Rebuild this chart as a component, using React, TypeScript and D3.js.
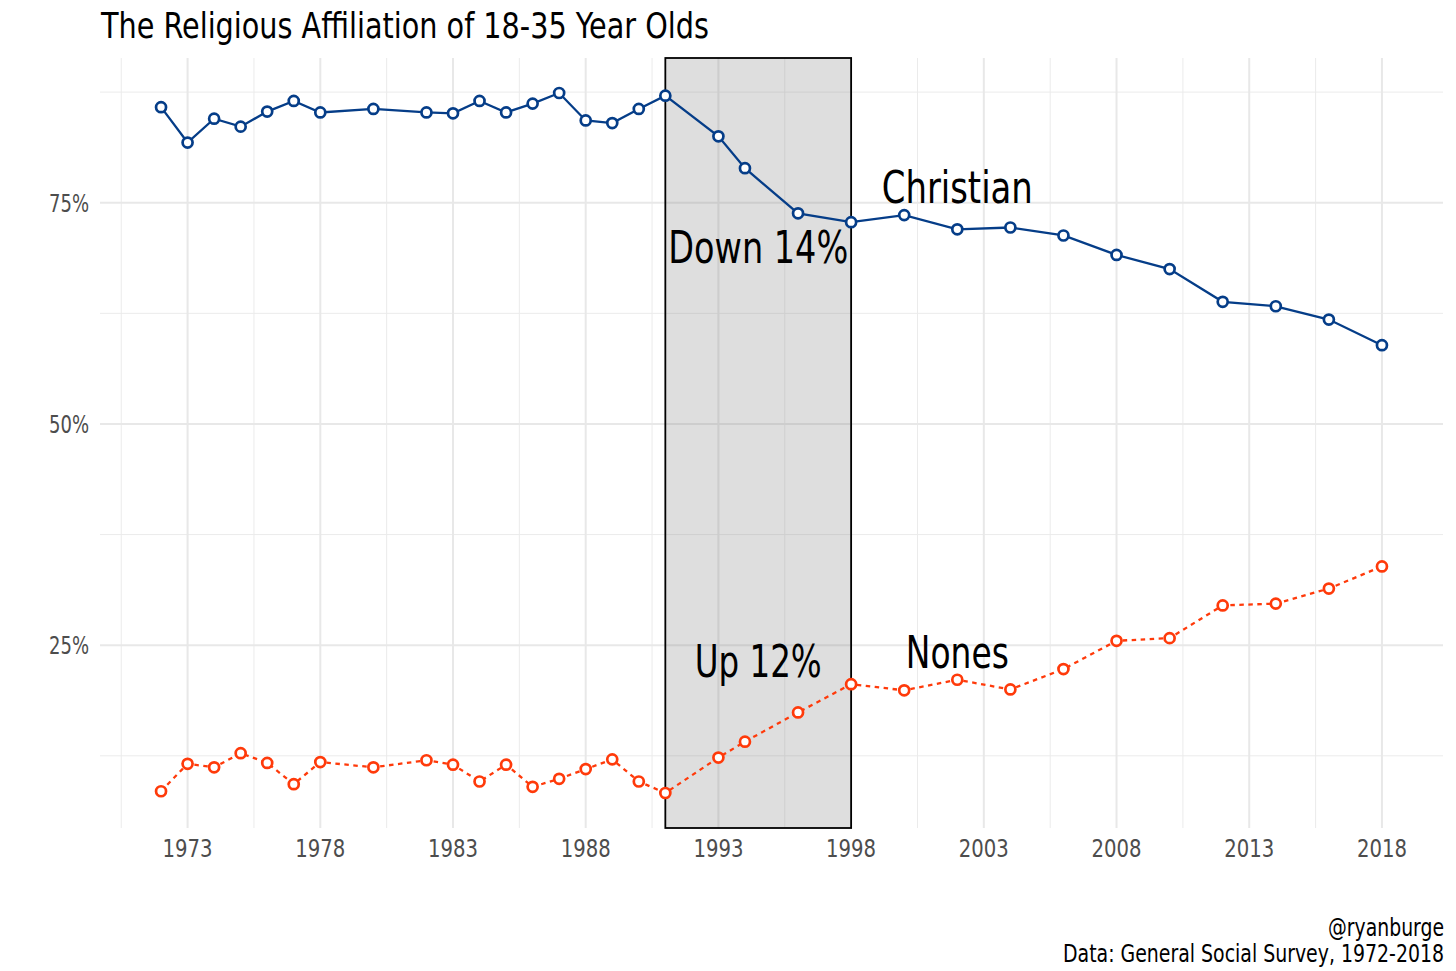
import * as d3 from 'd3';

// GSS survey years and shares (%) of 18-35 year olds
const years = [
  1972, 1973, 1974, 1975, 1976, 1977, 1978, 1980, 1982, 1983, 1984, 1985, 1986, 1987, 1988, 1989,
  1990, 1991, 1993, 1994, 1996, 1998, 2000, 2002, 2004, 2006, 2008, 2010, 2012, 2014, 2016, 2018,
];
const christian = [
  85.8, 81.8, 84.5, 83.6, 85.3, 86.5, 85.2, 85.6, 85.2, 85.1, 86.5, 85.2, 86.2, 87.4, 84.3, 84.0,
  85.6, 87.1, 82.5, 78.9, 73.8, 72.8, 73.6, 72.0, 72.2, 71.3, 69.1, 67.5, 63.8, 63.3, 61.8, 58.9,
];
const nones = [
  8.5, 11.6, 11.2, 12.8, 11.7, 9.3, 11.8, 11.2, 12.0, 11.5, 9.6, 11.5, 9.0, 9.9, 11.0, 12.1,
  9.6, 8.3, 12.3, 14.1, 17.4, 20.6, 19.9, 21.1, 20.0, 22.3, 25.5, 25.8, 29.5, 29.7, 31.4, 33.9,
];

const xTicks = [1973, 1978, 1983, 1988, 1993, 1998, 2003, 2008, 2013, 2018];
const xMinor = [1970.5, 1975.5, 1980.5, 1985.5, 1990.5, 1995.5, 2000.5, 2005.5, 2010.5, 2015.5];
const yTicks = [25, 50, 75];
const yMinor = [12.5, 37.5, 62.5, 87.5];
const shade = [1991, 1998];

const labels = [
  { text: 'Christian', year: 2002, value: 75.0, width: 151 },
  { text: 'Down 14%', year: 1994.5, value: 68.2, width: 180 },
  { text: 'Nones', year: 2002, value: 22.4, width: 103 },
  { text: 'Up 12%', year: 1994.5, value: 21.4, width: 127 },
];

const W = 1456;
const H = 971;
const margin = { top: 58, right: 13, bottom: 143, left: 100 };
// no Abel here: squeeze a condensed sans to the reference widths
const font = '"DejaVu Sans Condensed", "DejaVu Sans", sans-serif';
const navy = '#053d88';
const red = '#ff3a0a';

function expand([a, b]: [number, number]): [number, number] {
  const pad = (b - a) * 0.05;
  return [a - pad, b + pad];
}

export default function App() {
  const x = d3
    .scaleLinear()
    .domain(expand(d3.extent(years) as [number, number]))
    .range([margin.left, W - margin.right]);
  const allVals = christian.concat(nones);
  const y = d3
    .scaleLinear()
    .domain(expand(d3.extent(allVals) as [number, number]))
    .range([H - margin.bottom, margin.top]);

  const [x0, x1] = x.range();
  const [y0, y1] = y.range();

  const line = d3
    .line<number>()
    .x((_, i) => x(years[i]))
    .y((d) => y(d));

  const series = [
    { values: christian, color: navy, dash: undefined },
    { values: nones, color: red, dash: '4.5 4.5' },
  ];

  const squeeze = { lengthAdjust: 'spacingAndGlyphs' as const, fontFamily: font };

  return (
    <div style={{ position: 'fixed', left: 0, top: 0 }}>
      <svg width={W} height={H} style={{ display: 'block', background: '#fff' }}>
        {/* grid */}
        {yMinor.map((v) => (
          <line key={'ym' + v} x1={x0} x2={x1} y1={y(v)} y2={y(v)} stroke="#ebebeb" strokeWidth={1} />
        ))}
        {xMinor.map((v) => (
          <line key={'xm' + v} x1={x(v)} x2={x(v)} y1={y0} y2={y1} stroke="#ebebeb" strokeWidth={1} />
        ))}
        {yTicks.map((v) => (
          <line key={'y' + v} x1={x0} x2={x1} y1={y(v)} y2={y(v)} stroke="#e8e8e8" strokeWidth={2} />
        ))}
        {xTicks.map((v) => (
          <line key={'x' + v} x1={x(v)} x2={x(v)} y1={y0} y2={y1} stroke="#e8e8e8" strokeWidth={2} />
        ))}

        {/* highlighted period */}
        <rect
          x={x(shade[0])}
          y={y1}
          width={x(shade[1]) - x(shade[0])}
          height={y0 - y1}
          fill="#808080"
          fillOpacity={0.26}
          stroke="#000"
          strokeWidth={1.8}
        />

        {series.map((s, k) => (
          <g key={k}>
            <path d={line(s.values) ?? ''} fill="none" stroke={s.color} strokeWidth={2.3} strokeDasharray={s.dash} />
            {s.values.map((v, i) => (
              <circle key={i} cx={x(years[i])} cy={y(v)} r={5} fill="#fff" stroke={s.color} strokeWidth={2.7} />
            ))}
          </g>
        ))}

        {labels.map((l) => (
          <text key={l.text} x={x(l.year)} y={y(l.value)} textAnchor="middle" fontSize={45} fill="#000" textLength={l.width} {...squeeze}>
            {l.text}
          </text>
        ))}

        {/* axes text */}
        {yTicks.map((v) => (
          <text key={'yl' + v} x={x0 - 11} y={y(v) + 9} textAnchor="end" fontSize={25} fill="#4d4d4d" textLength={40} {...squeeze}>
            {v}%
          </text>
        ))}
        {xTicks.map((v) => (
          <text key={'xl' + v} x={x(v)} y={y0 + 29} textAnchor="middle" fontSize={25} fill="#4d4d4d" textLength={50} {...squeeze}>
            {v}
          </text>
        ))}

        <text x={x0 + 1} y={38} fontSize={35} fill="#000" textLength={608} {...squeeze}>
          The Religious Affiliation of 18-35 Year Olds
        </text>
        <text x={W - 12} y={936} textAnchor="end" fontSize={25} fill="#000" textLength={116} {...squeeze}>
          @ryanburge
        </text>
        <text x={W - 12} y={962} textAnchor="end" fontSize={25} fill="#000" textLength={381} {...squeeze}>
          Data: General Social Survey, 1972-2018
        </text>
      </svg>
    </div>
  );
}
